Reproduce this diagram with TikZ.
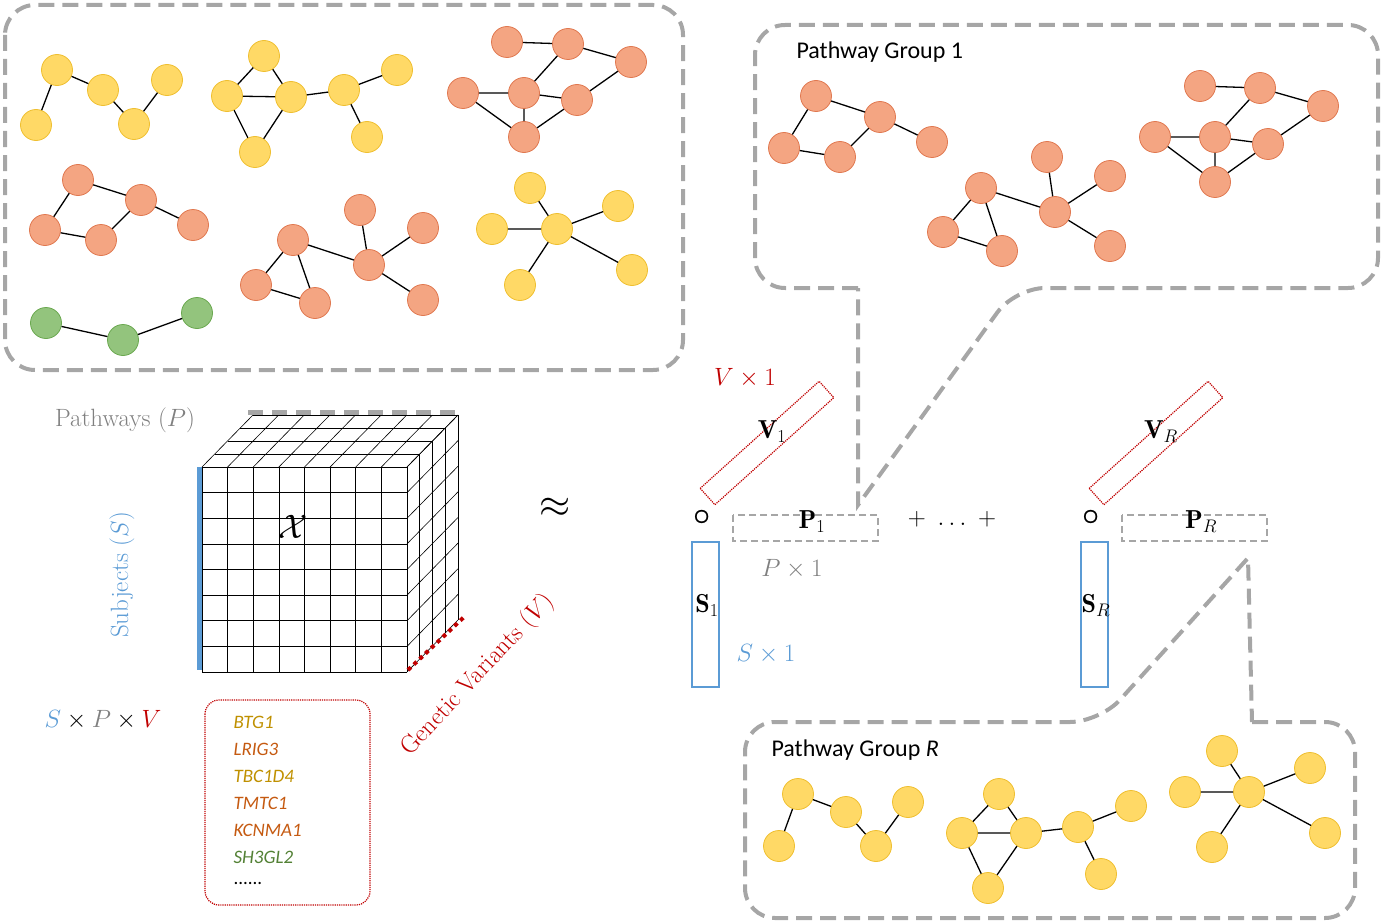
\RequirePackage{fix-cm}
\documentclass[tikz,border=0pt]{standalone}
\usepackage{fontspec}
\usepackage{amsmath}
\newfontfamily\carl{Carlito}
\usetikzlibrary{calc}
\definecolor{yf}{HTML}{FFD966}\definecolor{yd}{HTML}{EFBF30}
\definecolor{of}{HTML}{F4A582}\definecolor{od}{HTML}{E07850}
\definecolor{gf}{HTML}{93C47D}\definecolor{gd}{HTML}{6AA84F}
\definecolor{bx}{HTML}{A6A6A6}\definecolor{bl}{HTML}{5B9BD5}
\definecolor{dr}{HTML}{C00000}\definecolor{gold}{HTML}{BF9000}
\definecolor{org}{HTML}{C55A11}\definecolor{grn}{HTML}{538135}
\definecolor{gt}{HTML}{808080}
\begin{document}
\begin{tikzpicture}[x=1pt,y=-1pt,
 Y/.style={circle,draw=yd,fill=yf,minimum size=31pt,inner sep=0pt,line width=0.8pt},
 O/.style={circle,draw=od,fill=of,minimum size=31pt,inner sep=0pt,line width=0.8pt},
 G/.style={circle,draw=gd,fill=gf,minimum size=31pt,inner sep=0pt,line width=0.8pt},
 E/.style={line width=1.3pt},
 call/.style={draw=bx,line width=4pt,dash pattern=on 16pt off 8pt},
 lab/.style={font=\fontsize{25}{28}\selectfont},
 gene/.style={font=\carl\itshape\fontsize{19}{22}\selectfont,anchor=west}]
\useasboundingbox (0,0) rectangle (1383,923);
% callouts
\draw[call,rounded corners=30pt] (5,5) rectangle (683,370);
\draw[call,rounded corners=30pt] (858,288) -- (755,288) -- (755,25) -- (1378,25) -- (1378,288) -- (1015,288) [sharp corners] -- (858,505) -- cycle;
\draw[call,rounded corners=30pt] (1252,722) -- (1355,722) -- (1355,918) -- (745,918) -- (745,722) -- (1100,722) [sharp corners] -- (1248,558) -- cycle;
\begin{scope}[every path/.style={E}]
\node[Y] (a1) at (57,70){};\node[Y] (a2) at (103,90){};\node[Y] (a3) at (167,80){};\node[Y] (a4) at (36,125){};\node[Y] (a5) at (134,124){};
\draw (a4)--(a1)--(a2)--(a5)--(a3);
\node[Y] (b1) at (264,56){};\node[Y] (b2) at (227,96){};\node[Y] (b3) at (291,97){};\node[Y] (b4) at (255,152){};\node[Y] (b5) at (344,90){};\node[Y] (b6) at (397,70){};\node[Y] (b7) at (367,137){};
\draw (b1)--(b2)--(b3)--(b1) (b2)--(b4)--(b3)--(b5)--(b6) (b5)--(b7);
\node[O] (c1) at (507,42){};\node[O] (c2) at (568,44){};\node[O] (c3) at (631,62){};\node[O] (c4) at (463,93){};\node[O] (c5) at (524,93){};\node[O] (c6) at (577,100){};\node[O] (c7) at (524,137){};
\draw (c1)--(c2)--(c3)--(c6) (c2)--(c5) (c4)--(c5)--(c6)--(c7)--(c4) (c5)--(c7);
\node[O] (d1) at (78,180){};\node[O] (d2) at (141,200){};\node[O] (d3) at (193,225){};\node[O] (d4) at (45,230){};\node[O] (d5) at (101,240){};
\draw (d4)--(d1)--(d2)--(d3) (d4)--(d5)--(d2);
\node[O] (e1) at (360,210){};\node[O] (e2) at (423,228){};\node[O] (e3) at (293,240){};\node[O] (e4) at (369,265){};\node[O] (e5) at (256,285){};\node[O] (e6) at (315,303){};\node[O] (e7) at (423,300){};
\draw (e1)--(e4)--(e2) (e3)--(e4)--(e7) (e3)--(e5)--(e6)--(e3);
\node[Y] (f1) at (530,188){};\node[Y] (f2) at (618,206){};\node[Y] (f3) at (492,229){};\node[Y] (f4) at (557,229){};\node[Y] (f5) at (632,270){};\node[Y] (f6) at (520,285){};
\draw (f1)--(f4)--(f2) (f3)--(f4)--(f5) (f4)--(f6);
\node[G] (g1) at (46,323){};\node[G] (g2) at (123,340){};\node[G] (g3) at (197,313){};
\draw (g1)--(g2)--(g3);
\node[O] (h1) at (816,96){};\node[O] (h2) at (880,117){};\node[O] (h3) at (932,142){};\node[O] (h4) at (784,148){};\node[O] (h5) at (840,157){};
\draw (h4)--(h1)--(h2)--(h3) (h4)--(h5)--(h2);
\node[O] (i1) at (1047,157){};\node[O] (i2) at (1110,176){};\node[O] (i3) at (981,188){};\node[O] (i4) at (1055,212){};\node[O] (i5) at (943,232){};\node[O] (i6) at (1002,251){};\node[O] (i7) at (1110,246){};
\draw (i1)--(i4)--(i2) (i3)--(i4)--(i7) (i3)--(i5)--(i6)--(i3);
\node[O] (j1) at (1200,86){};\node[O] (j2) at (1260,88){};\node[O] (j3) at (1323,106){};\node[O] (j4) at (1155,137){};\node[O] (j5) at (1215,137){};\node[O] (j6) at (1268,144){};\node[O] (j7) at (1215,182){};
\draw (j1)--(j2)--(j3)--(j6) (j2)--(j5) (j4)--(j5)--(j6)--(j7)--(j4) (j5)--(j7);
\node[Y] (k1) at (798,794){};\node[Y] (k2) at (846,812){};\node[Y] (k3) at (908,802){};\node[Y] (k4) at (779,846){};\node[Y] (k5) at (876,846){};
\draw (k4)--(k1)--(k2)--(k5)--(k3);
\node[Y] (l1) at (999,794){};\node[Y] (l2) at (962,833){};\node[Y] (l3) at (1026,833){};\node[Y] (l4) at (988,888){};\node[Y] (l5) at (1078,827){};\node[Y] (l6) at (1131,806){};\node[Y] (l7) at (1101,874){};
\draw (l1)--(l2)--(l3)--(l1) (l2)--(l4)--(l3)--(l5)--(l6) (l5)--(l7);
\node[Y] (m1) at (1222,751){};\node[Y] (m2) at (1310,768){};\node[Y] (m3) at (1185,792){};\node[Y] (m4) at (1249,792){};\node[Y] (m5) at (1325,833){};\node[Y] (m6) at (1212,847){};
\draw (m1)--(m4)--(m2) (m3)--(m4)--(m5) (m4)--(m6);
\end{scope}
\node[font=\carl\fontsize{24}{28}\selectfont,anchor=west] (t1) at (793,52) {Pathway Group 1};
\node[font=\carl\fontsize{24}{28}\selectfont,anchor=west] (tR) at (768,750) {Pathway Group \textit{R}};
% cube
\begin{scope}[line width=0.6pt]
\foreach \i in {0,...,8}{
 \draw ({202+\i*25.625},467) -- ({202+\i*25.625},672);
 \draw (202,{467+\i*25.625}) -- (407,{467+\i*25.625});
 \draw ({202+\i*25.625},467) -- ({253+\i*25.625},415);
 \draw (407,{467+\i*25.625}) -- (458,{415+\i*25.625});}
\foreach \k in {1,...,4}{
 \draw ({202+\k*12.75},{467-\k*13}) -- ({407+\k*12.75},{467-\k*13}) -- ({407+\k*12.75},{672-\k*13});}
\end{scope}
\draw[bl,line width=5pt] (199,467) -- (199,670);
\draw[bx,line width=5pt,dash pattern=on 15pt off 9pt] (248,412) -- (460,412);
\draw[dr,line width=4pt,dash pattern=on 4pt off 4pt] (408,670) -- (464,617);
\node[font=\fontsize{34}{36}\selectfont] (chi) at (293,527) {$\mathcal{X}$};
\node[lab,text=gt] (pw) at (125,420) {Pathways ($P$)};
\node[lab,text=bl,rotate=90] (sj) at (122,575) {Subjects ($S$)};
\node[lab,text=dr,rotate=47] (gv) at (478,675) {Genetic Variants ($V$)};
\node[lab] (spv) at (103,720) {$\textcolor{bl}{S}\times\textcolor{gt}{P}\times\textcolor{dr}{V}$};
\node[font=\fontsize{40}{42}\selectfont] (ap) at (555,508) {$\approx$};
\draw[dr,densely dotted,line width=1.2pt,rounded corners=14pt] (205,700) rectangle (370,905);
\node[gene,text=gold] (n1) at (230,722) {BTG1};
\node[gene,text=org] (n2) at (230,749) {LRIG3};
\node[gene,text=gold] (n3) at (230,776) {TBC1D4};
\node[gene,text=org] (n4) at (230,803) {TMTC1};
\node[gene,text=org] (n5) at (230,830) {KCNMA1};
\node[gene,text=grn] (n6) at (230,857) {SH3GL2};
\node[gene,text=black,font=\carl\fontsize{19}{22}\selectfont] (n7) at (230,883) {......};
\foreach \x/\n/\s in {0/1/1,389/R/R}{
 \node[font=\fontsize{30}{32}\selectfont] (o\n) at ({702+\x},517) {$\boldsymbol{\circ}$};
 \draw[bx,line width=1.2pt,dash pattern=on 7pt off 4pt] ({733+\x},515) rectangle ({878+\x},541);
 \node[font=\fontsize{26}{28}\selectfont] (p\n) at ({812+\x},522) {$\mathbf{P}_{\s}$};
 \draw[bl,line width=1.5pt] ({692+\x},542) rectangle ({719+\x},687);
 \node[font=\fontsize{26}{28}\selectfont] (s\n) at ({707+\x},605) {$\mathbf{S}_{\s}$};
 \draw[dr,densely dotted,line width=1.2pt,rotate around={42:({767+\x},443)}] ({687+\x},432) rectangle ({847+\x},454);
 \node[font=\fontsize{26}{28}\selectfont] (v\n) at ({772+\x},432) {$\mathbf{V}_{\s}$};}
\node[lab,text=dr] (vx) at (745,378) {$V\times1$};
\node[lab,text=gt] (px) at (792,569) {$P\times1$};
\node[lab,text=bl] (sx) at (766,654) {$S\times1$};
\node[lab] (pl) at (952,519) {$+\ \dots\ +$};
\end{tikzpicture}
\end{document}
